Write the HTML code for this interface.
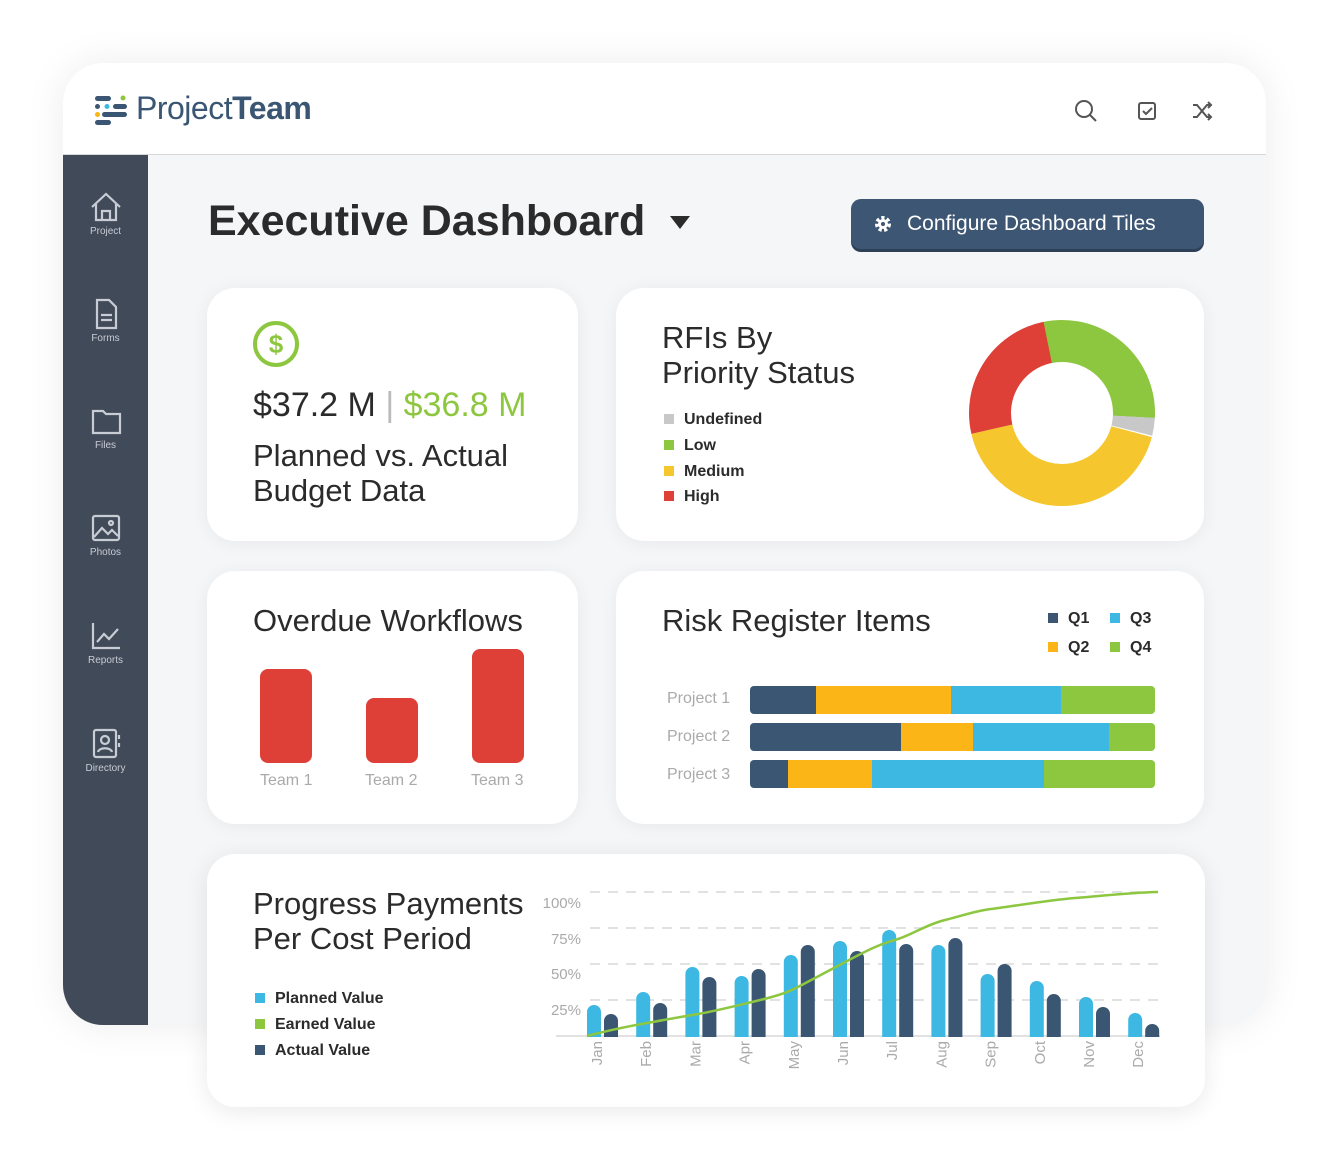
<!DOCTYPE html>
<html><head><meta charset="utf-8"><style>
*{margin:0;padding:0;box-sizing:border-box}
body{width:1329px;height:1171px;background:#fff;font-family:"Liberation Sans",sans-serif;position:relative;overflow:hidden}
.frame{position:absolute;left:63px;top:63px;width:1203px;height:962px;background:#f5f6f8;border-radius:40px;box-shadow:0 0 40px rgba(0,0,0,.08);overflow:hidden}
.hdr{position:absolute;left:0;top:0;width:1203px;height:92px;background:#fff;border-bottom:1.5px solid #d8d8d8}
.side{position:absolute;left:0;top:92px;width:85px;height:870px;background:#414a59}
.nav{position:absolute;left:0;width:85px;text-align:center;color:#c8ccd4;font-size:10px}
.card{position:absolute;background:#fff;border-radius:28px;box-shadow:0 2px 18px rgba(0,0,0,.06)}
.t{position:absolute;color:#2b2b2b;font-size:31px;line-height:35px}
.lg{position:absolute;font-size:16px;color:#2b2b2b;font-weight:bold}
.lg i{display:inline-block;width:10px;height:10px;margin-right:10px}
</style></head><body>
<div class="frame">
 <div class="hdr">
  <svg style="position:absolute;left:32px;top:32px" width="34" height="30">
   <rect x="0" y="1" width="16" height="5" rx="2.5" fill="#3a5673"/><circle cx="28" cy="3" r="2.5" fill="#8dc63f"/>
   <rect x="0" y="9" width="5" height="5" rx="2.5" fill="#3a5673"/><circle cx="12" cy="11.5" r="2.5" fill="#3db8e2"/><rect x="18" y="9" width="14" height="5" rx="2.5" fill="#3a5673"/>
   <circle cx="2.5" cy="19.5" r="2.5" fill="#fbb516"/><rect x="7" y="17" width="25" height="5" rx="2.5" fill="#3a5673"/>
   <rect x="0" y="25" width="16" height="5" rx="2.5" fill="#3a5673"/>
  </svg>
  <div style="position:absolute;left:73px;top:27px;font-size:32px;color:#3a5673;letter-spacing:-.5px">Project<b>Team</b></div>
  <svg style="position:absolute;left:1010px;top:36px" width="160" height="26" fill="none" stroke="#555" stroke-width="2">
   <circle cx="11" cy="10" r="8"/><line x1="17" y1="16" x2="23" y2="22"/>
   <rect x="66" y="4" width="16" height="16" rx="2"/><path d="M70 12l3 3 6-6"/>
   <path d="M120 6h4l10 12h4M120 18h4l10-12h4M135 3l3 3-3 3M135 15l3 3-3 3"/>
  </svg>
 </div>
 <div class="side">
  <div class="nav" style="top:36px"><svg width="34" height="32" fill="none" stroke="#c8ccd4" stroke-width="2.2"><path d="M3 16L17 3l14 13M7 13v16h20V13M13 29v-9h8v9"/></svg><br>Project</div>
  <div class="nav" style="top:143px"><svg width="34" height="32" fill="none" stroke="#c8ccd4" stroke-width="2.2"><path d="M8 2h12l7 7v21H8zM12 17h11M12 22h11"/></svg><br>Forms</div>
  <div class="nav" style="top:250px"><svg width="34" height="32" fill="none" stroke="#c8ccd4" stroke-width="2.2"><path d="M4 6h10l3 3h14v19H4z"/></svg><br>Files</div>
  <div class="nav" style="top:357px"><svg width="34" height="32" fill="none" stroke="#c8ccd4" stroke-width="2.2"><rect x="4" y="4" width="26" height="24" rx="2"/><path d="M5 25l8-9 6 6 4-4 6 6"/><circle cx="22" cy="11" r="2"/></svg><br>Photos</div>
  <div class="nav" style="top:465px"><svg width="34" height="32" fill="none" stroke="#c8ccd4" stroke-width="2.2"><path d="M4 3v25h27M8 22l7-8 5 5 9-10"/></svg><br>Reports</div>
  <div class="nav" style="top:573px"><svg width="34" height="32" fill="none" stroke="#c8ccd4" stroke-width="2.2"><rect x="5" y="2" width="22" height="27" rx="2"/><circle cx="16" cy="12" r="4"/><path d="M9 24c1-5 13-5 14 0M30 7v4M30 15v4"/></svg><br>Directory</div>
 </div>
</div>
<div style="position:absolute;left:208px;top:197px;font-size:43px;font-weight:bold;color:#2b2b2b">Executive Dashboard</div>
<div style="position:absolute;left:670px;top:216px;width:0;height:0;border-left:10px solid transparent;border-right:10px solid transparent;border-top:13px solid #2b2b2b"></div>
<div style="position:absolute;left:851px;top:199px;width:353px;height:50px;background:#3d5673;border-radius:10px;box-shadow:0 3px 0 #2d4058;color:#fff;font-size:21px;line-height:50px;padding-left:56px">Configure Dashboard Tiles</div>
<svg style="position:absolute;left:873px;top:214px" width="20" height="20"><circle cx="10" cy="10" r="6" fill="none" stroke="#fff" stroke-width="4" stroke-dasharray="3 2.3"/><circle cx="10" cy="10" r="5" fill="#fff"/><circle cx="10" cy="10" r="2" fill="#3d5673"/></svg>

<div class="card" style="left:207px;top:288px;width:371px;height:253px">
 <svg style="position:absolute;left:45px;top:32px" width="48" height="48"><circle cx="24" cy="24" r="21" fill="none" stroke="#8dc63f" stroke-width="4"/><text x="24" y="33" text-anchor="middle" font-size="26" font-weight="bold" fill="#8dc63f" font-family="Liberation Sans">$</text></svg>
 <div style="position:absolute;left:46px;top:98px;font-size:34px;color:#2b2b2b">$37.2 M <span style="color:#bbb">|</span> <span style="color:#8dc63f">$36.8 M</span></div>
 <div class="t" style="left:46px;top:150px">Planned vs. Actual<br>Budget Data</div>
</div>

<div class="card" style="left:616px;top:288px;width:588px;height:253px">
 <div class="t" style="left:46px;top:32px">RFIs By<br>Priority Status</div>
 <div class="lg" style="left:48px;top:123px"><i style="background:#c8c8c8"></i>Undefined</div>
 <div class="lg" style="left:48px;top:149px"><i style="background:#8dc63f"></i>Low</div>
 <div class="lg" style="left:48px;top:175px"><i style="background:#f5c62e"></i>Medium</div>
 <div class="lg" style="left:48px;top:200px"><i style="background:#de4038"></i>High</div>
</div>
<svg style="position:absolute;left:0;top:0" width="1329" height="1171">
 <g transform="translate(1062,413)" fill="none" stroke-width="42">
  <circle r="72" stroke="#8dc63f" stroke-dasharray="132 500" transform="rotate(-102)"/>
  <circle r="72" stroke="#c8c8c8" stroke-dasharray="14 500" transform="rotate(3)"/>
  <circle r="72" stroke="#f5c62e" stroke-dasharray="191 500" transform="rotate(15)"/>
  <circle r="72" stroke="#de4038" stroke-dasharray="115 500" transform="rotate(167)"/>
 </g>
</svg>

<div class="card" style="left:207px;top:571px;width:371px;height:253px">
 <div class="t" style="left:46px;top:32px">Overdue Workflows</div>
 <div style="position:absolute;left:53px;top:98px;width:52px;height:94px;background:#de4038;border-radius:8px"></div>
 <div style="position:absolute;left:159px;top:127px;width:52px;height:65px;background:#de4038;border-radius:8px"></div>
 <div style="position:absolute;left:265px;top:78px;width:52px;height:114px;background:#de4038;border-radius:8px"></div>
 <div style="position:absolute;left:53px;top:201px;font-size:16px;color:#aaa">Team 1</div>
 <div style="position:absolute;left:158px;top:201px;font-size:16px;color:#aaa">Team 2</div>
 <div style="position:absolute;left:264px;top:201px;font-size:16px;color:#aaa">Team 3</div>
</div>

<div class="card" style="left:616px;top:571px;width:588px;height:253px">
 <div class="t" style="left:46px;top:32px">Risk Register Items</div>
 <div class="lg" style="left:432px;top:39px"><i style="background:#3a5673"></i>Q1</div>
 <div class="lg" style="left:494px;top:39px"><i style="background:#3db8e2"></i>Q3</div>
 <div class="lg" style="left:432px;top:68px"><i style="background:#fbb516"></i>Q2</div>
 <div class="lg" style="left:494px;top:68px"><i style="background:#8dc63f"></i>Q4</div>
 <div style="position:absolute;left:51px;top:119px;font-size:16px;color:#aaa">Project 1</div>
 <div style="position:absolute;left:51px;top:157px;font-size:16px;color:#aaa">Project 2</div>
 <div style="position:absolute;left:51px;top:195px;font-size:16px;color:#aaa">Project 3</div>
</div>
<svg style="position:absolute;left:0;top:0" width="1329" height="1171">
 <defs><clipPath id="r1"><rect x="750" y="686" width="405" height="28" rx="4"/></clipPath><clipPath id="r2"><rect x="750" y="723" width="405" height="28" rx="4"/></clipPath><clipPath id="r3"><rect x="750" y="760" width="405" height="28" rx="4"/></clipPath></defs>
 <g clip-path="url(#r1)"><rect x="750" y="686" width="66" height="28" fill="#3a5673"/><rect x="816" y="686" width="135" height="28" fill="#fbb516"/><rect x="951" y="686" width="110" height="28" fill="#3db8e2"/><rect x="1061" y="686" width="94" height="28" fill="#8dc63f"/></g>
 <g clip-path="url(#r2)"><rect x="750" y="723" width="151" height="28" fill="#3a5673"/><rect x="901" y="723" width="72" height="28" fill="#fbb516"/><rect x="973" y="723" width="136" height="28" fill="#3db8e2"/><rect x="1109" y="723" width="46" height="28" fill="#8dc63f"/></g>
 <g clip-path="url(#r3)"><rect x="750" y="760" width="38" height="28" fill="#3a5673"/><rect x="788" y="760" width="84" height="28" fill="#fbb516"/><rect x="872" y="760" width="172" height="28" fill="#3db8e2"/><rect x="1044" y="760" width="111" height="28" fill="#8dc63f"/></g>
</svg>

<div class="card" style="left:207px;top:854px;width:998px;height:253px;box-shadow:0 4px 24px rgba(0,0,0,.09)">
 <div class="t" style="left:46px;top:32px">Progress Payments<br>Per Cost Period</div>
 <div class="lg" style="left:48px;top:136px"><i style="background:#3db8e2"></i>Planned Value</div>
 <div class="lg" style="left:48px;top:162px"><i style="background:#8dc63f"></i>Earned Value</div>
 <div class="lg" style="left:48px;top:188px"><i style="background:#3a5673"></i>Actual Value</div>
</div>
<svg style="position:absolute;left:0;top:0" width="1329" height="1171" font-family="Liberation Sans">
 <g stroke="#e2e2e2" stroke-width="2" stroke-dasharray="10 8">
  <line x1="590" y1="892" x2="1160" y2="892"/><line x1="590" y1="928" x2="1160" y2="928"/><line x1="590" y1="964" x2="1160" y2="964"/><line x1="590" y1="1000" x2="1160" y2="1000"/>
 </g>
 <line x1="556" y1="1036" x2="1160" y2="1036" stroke="#e2e2e2" stroke-width="2"/>
 <g font-size="15" fill="#aaa" text-anchor="end"><text x="581" y="908">100%</text><text x="581" y="944">75%</text><text x="581" y="979">50%</text><text x="581" y="1015">25%</text></g>
 <g id="bars"></g>
 <path d="M587 1036 C610 1030,630 1026,647 1023 S680 1017,698 1014 S735 1006,752 1002 S785 994,798 987 S830 970,849 960 S880 944,895 940 S925 925,945 920 S975 911,991 909 S1050 900,1075 898 S1140 892,1158 892" fill="none" stroke="#8dc63f" stroke-width="2.5"/>
 <g font-size="15" fill="#aaa" text-anchor="end" id="months"></g>
</svg>
<script>
var L=[1005,992,967,976,955,941,930,945,974,981,997,1013],D=[1014,1003,977,969,945,951,944,938,964,994,1007,1024],M=["Jan","Feb","Mar","Apr","May","Jun","Jul","Aug","Sep","Oct","Nov","Dec"];
var b="",m="";
for(var i=0;i<12;i++){var x=587+i*49.2;
b+='<rect x="'+x+'" y="'+L[i]+'" width="14" height="'+(1044-L[i])+'" rx="7" fill="#3db8e2"/>';
b+='<rect x="'+(x+17)+'" y="'+D[i]+'" width="14" height="'+(1044-D[i])+'" rx="7" fill="#3a5673"/>';
m+='<text transform="translate('+(x+15)+',1041) rotate(-90)">'+M[i]+'</text>';}
b+='<rect x="570" y="1037" width="600" height="10" fill="#fff"/>';
document.getElementById("bars").innerHTML=b;document.getElementById("months").innerHTML=m;
</script>
</body></html>
